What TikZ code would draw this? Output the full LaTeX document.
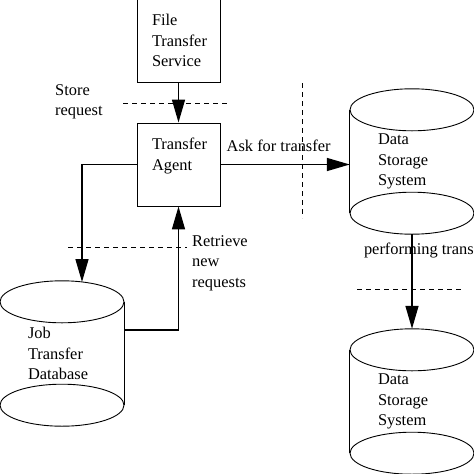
\documentclass[tikz,border=0pt]{standalone}
\usepackage{fontspec}
\setmainfont{Liberation Serif}
\usetikzlibrary{arrows.meta,calc,positioning}

\begin{document}
\begin{tikzpicture}[x=1pt,y=-1pt,
	font=\fontsize{16.4}{20.5}\selectfont,
	unit/.style={draw, line width=.9pt, minimum size=83pt, inner sep=0pt, text width=53pt, align=left},
	store/.style={minimum width=124pt, minimum height=145pt, inner sep=0pt, text width=68pt, align=left},
	flow/.style={line width=1.5pt, -{Triangle[length=23pt,width=13pt]}},
	cut/.style={dash pattern=on 5pt off 4pt, line width=.7pt},
	note/.style={align=left, anchor=west, inner sep=0pt}]
	\useasboundingbox (0,0) rectangle (474,474);
	\clip (0,0) rectangle (474,474);
	% Boxes
	\node[unit] (fts) at (178.5,40.5) {File\\Transfer\\Service};
	\node[unit] (agent) at (178.5,164.5) {Transfer\\Agent\\\mbox{}};
	% Storage cylinders
	\node[store] (jobdb) at (62,353.5) {Job\\Transfer\\Database};
	\node[store] (dss1) at (412,161.5) {Data\\Storage\\System};
	\node[store] (dss2) at (412,401.5) {Data\\Storage\\System};
	\foreach \c in {jobdb,dss1,dss2} {
		\draw[line width=.9pt] ($(\c.north)+(0,21)$) ellipse [x radius=62pt, y radius=21pt];
		\draw[line width=.9pt] ($(\c.south)+(0,-21)$) ellipse [x radius=62pt, y radius=21pt];
		\draw[line width=.9pt] ($(\c.north west)+(0,21)$) -- ($(\c.south west)+(0,-21)$);
		\draw[line width=.9pt] ($(\c.north east)+(0,21)$) -- ($(\c.south east)+(0,-21)$);
	}
	% Connectors
	\coordinate (jobdb-in) at (82,282);
	\coordinate (jobdb-out) at (124,330);
	\draw[flow] (fts) -- (agent);
	\draw[flow] (agent.west) -| (jobdb-in);
	\draw[flow] (jobdb-out) -| (agent.south);
	\draw[flow] (agent.east) -- node[above=12pt, inner sep=0pt, pos=.45] {Ask for transfer} (agent.east -| dss1.west);
	\draw[flow] (dss1) -- node[pos=.17, xshift=16pt] {performing transfer} (dss2);
	% Dashed cuts
	\draw[cut] (123,103) -- (228,103);
	\draw[cut] (302,83) -- (302,218);
	\draw[cut] (68,247) -- (187,247);
	\draw[cut] (357,289) -- (462,289);
	% Notes
	\node[note] (store-req) at (55,102) {Store\\request};
	\node[note] (retrieve) at (192,263) {Retrieve\\new\\requests};
\end{tikzpicture}
\end{document}
